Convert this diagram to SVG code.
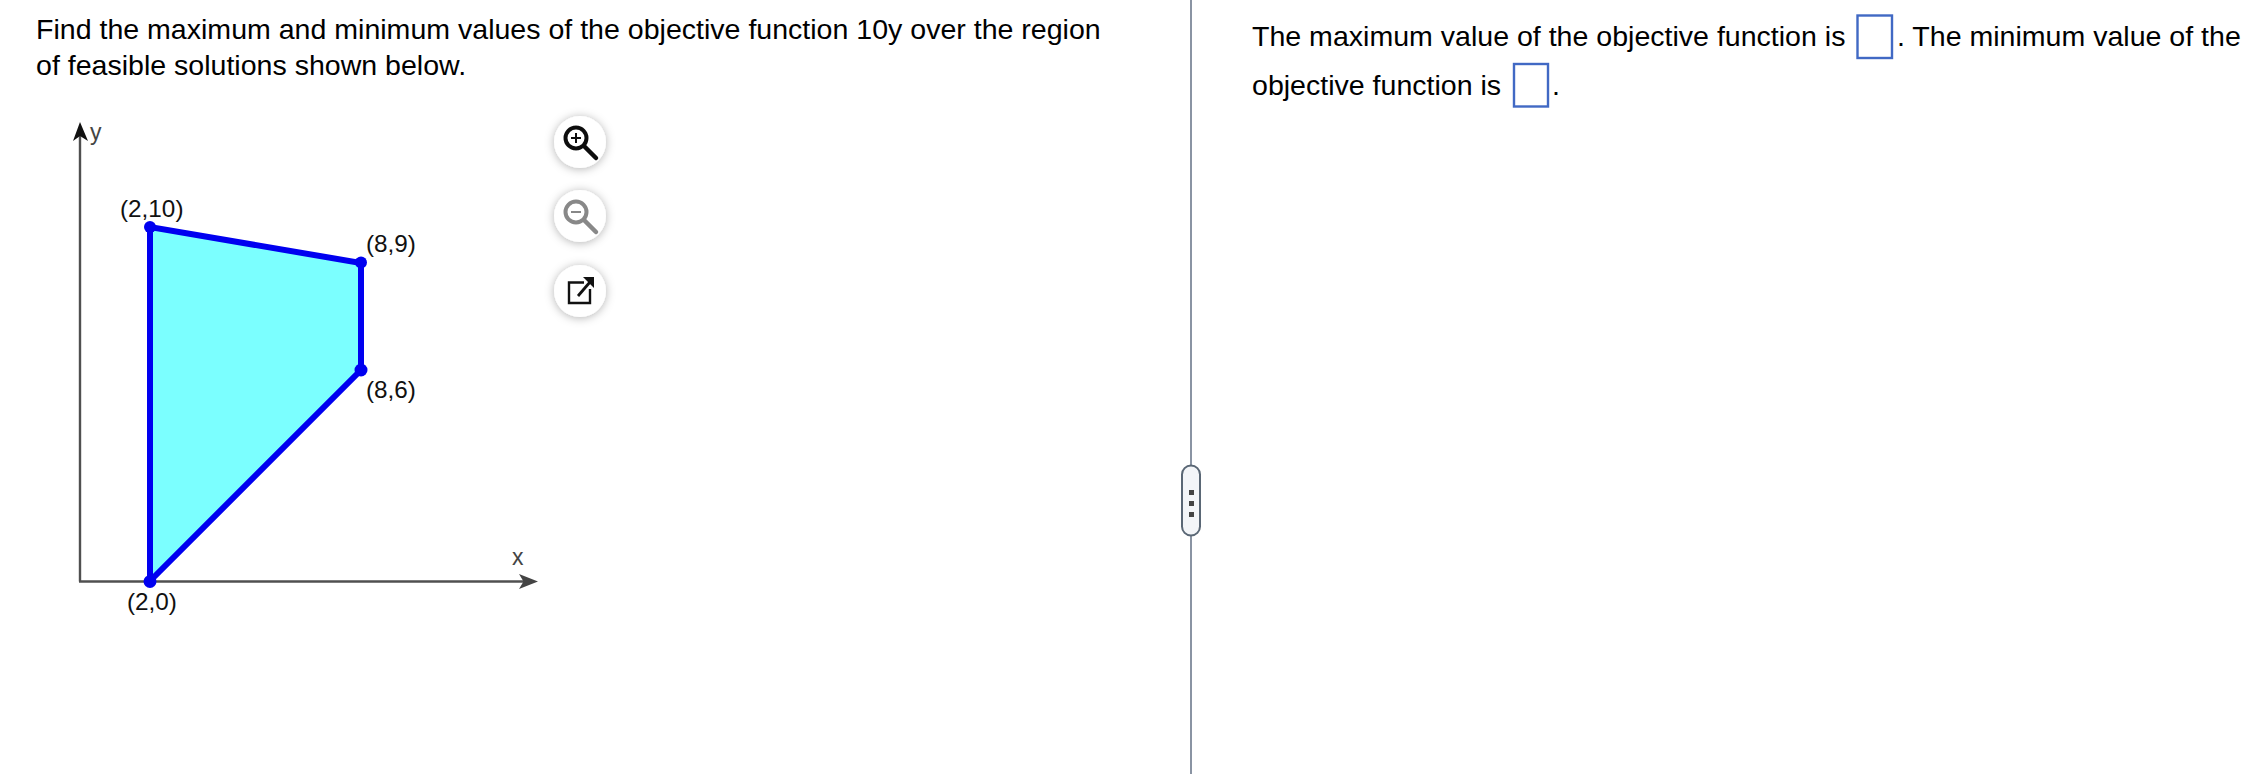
<svg xmlns="http://www.w3.org/2000/svg" width="2262" height="774" viewBox="0 0 2262 774">
<style>
text{font-family:"Liberation Sans",Arial,sans-serif;fill:#000}
.q{font-size:28.55px}
.l{font-size:24.300px;fill:#111}
.ax{font-size:23px;fill:#444}
.axis{stroke:#505050;stroke-width:2.4;fill:none}
.edge{stroke:#0000f0;stroke-width:6;fill:none}
.v{fill:#0000f0}
.box{fill:#fff;stroke:#4169c4;stroke-width:2.400}
.btn{fill:#fff;filter:url(#sh)}
.ic{filter:url(#soft)}
</style>
<defs>
<filter id="sh" x="-50%" y="-50%" width="200%" height="200%"><feDropShadow dx="0" dy="1" stdDeviation="5" flood-color="#000" flood-opacity=".3"/></filter>
<filter id="soft" x="-20%" y="-20%" width="140%" height="140%"><feGaussianBlur stdDeviation="0.6"/></filter>
</defs>
<rect width="2262" height="774" fill="#fff"/>
<g id="question">
<text class="q" x="36" y="39">Find the maximum and minimum values of the objective function 10y over the region</text>
<text class="q" x="36" y="75">of feasible solutions shown below.</text>
</g>
<g id="region"><polygon points="150,227 361,263 361,370 150,581" fill="#7bffff"/></g>
<g id="connectors">
<line class="axis" x1="80" y1="135" x2="80" y2="581.5"/>
<line class="axis" x1="79" y1="581.5" x2="525" y2="581.5"/>
<path d="M80 122 L88 141 L80 136 L73 141Z" fill="#111"/>
<path d="M538 581.5 L519 574 L523.500 581.5 L519 589Z" fill="#444"/>
<polyline class="edge" points="150,581 150,227 361,263 361,370 150,581"/>
</g>
<g id="v1"><circle class="v" cx="150" cy="227" r="6"/><text class="l" x="120" y="217">(2,10)</text></g>
<g id="v2"><circle class="v" cx="361" cy="262.500" r="6"/><text class="l" x="366" y="252">(8,9)</text></g>
<g id="v3"><circle class="v" cx="361" cy="370" r="6.500"/><text class="l" x="366" y="398">(8,6)</text></g>
<g id="v4"><circle class="v" cx="150" cy="581.500" r="6.500"/><text class="l" x="127" y="610">(2,0)</text></g>
<g id="y-label"><text class="ax" x="90" y="140">y</text></g>
<g id="x-label"><text class="ax" x="512" y="565">x</text></g>
<g id="zoom-in"><circle class="btn" cx="580" cy="142" r="26"/>
<g class="ic"><circle cx="576" cy="138" r="10.500" fill="none" stroke="#111" stroke-width="4"/><path d="M584 146 L596 158" stroke="#111" stroke-width="4.500" stroke-linecap="round"/><path d="M576 133v10M571 138h10" stroke="#111" stroke-width="2"/></g></g>
<g id="zoom-out"><circle class="btn" cx="580" cy="216" r="26"/>
<g class="ic"><circle cx="576" cy="212" r="10.500" fill="none" stroke="#888" stroke-width="4"/><path d="M584 220 L596 232" stroke="#888" stroke-width="4.500" stroke-linecap="round"/><path d="M571 212h10" stroke="#888" stroke-width="2"/></g></g>
<g id="popout"><circle class="btn" cx="580" cy="291" r="26"/>
<path d="M584 282.500H569V303H590V289" fill="none" stroke="#111" stroke-width="2.400"/><path d="M578 296 L590 282" stroke="#111" stroke-width="2.800"/><path d="M583 277H594V288Z" fill="#111"/></g>
<g id="divider"><line x1="1191" y1="0" x2="1191" y2="774" stroke="#8a94a3" stroke-width="2"/>
<rect x="1182" y="465.500" width="18" height="70" rx="9" fill="#f3f5f8" stroke="#5a6775" stroke-width="2"/>
<rect x="1189" y="490" width="5" height="5" fill="#444"/><rect x="1189" y="501" width="5" height="5" fill="#444"/><rect x="1189" y="512" width="5" height="5" fill="#444"/></g>
<g id="answer">
<text class="q" x="1252" y="46">The maximum value of the objective function is</text>
<rect class="box" x="1857.500" y="15.500" width="34.500" height="42.500"/>
<text class="q" x="1897" y="46">. The minimum value of the</text>
<text class="q" x="1252" y="95">objective function is</text>
<rect class="box" x="1514" y="64" width="34" height="42.500"/>
<text class="q" x="1552" y="95">.</text>
</g>
</svg>
